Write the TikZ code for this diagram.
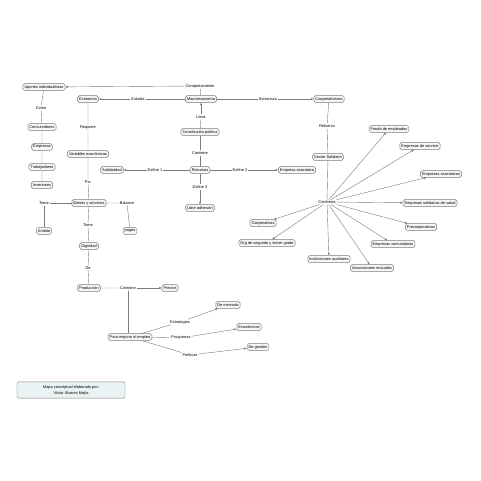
\documentclass[tikz,border=0pt]{standalone}
\usepackage{fontspec}
\setmainfont{Liberation Sans}
\usetikzlibrary{arrows.meta}
\definecolor{cmapline}{HTML}{7A7A7A}
\definecolor{cmapfill}{HTML}{F5F7F7}
\definecolor{notefill}{HTML}{EAF3F3}

\begin{document}
\begin{tikzpicture}[x=1pt, y=-1pt,
    concept/.style={draw=cmapline, fill=cmapfill, rounded corners=1.6pt, line width=0.5pt,
        font=\fontsize{3.9}{4.5}\selectfont, inner xsep=1.6pt, inner ysep=1pt, minimum height=6.6pt},
    phrase/.style={font=\fontsize{3.9}{4.5}\selectfont, inner sep=0.9pt},
    link/.style={draw=cmapline, line width=0.4pt},
    arr/.style={link, -{Latex[length=2.6pt, width=2.2pt]}}]
    % Page frame
    \useasboundingbox (0,0) rectangle (481,481);

    % Top row
    \node[concept] (aportes) at (44,87) {Aportes individualistas};
    \node[phrase] (comporta) at (200,86) {Comportamiento};
    \node[concept] (economia) at (88,99) {Economía};
    \node[phrase] (estudia) at (138,99) {Estudia};
    \node[concept] (macro) at (201,99) {Macroeconomía};
    \node[phrase] (estructura) at (268,99) {Estructura};
    \node[concept] (coop) at (329,99) {Cooperativismo};

    % Left column
    \node[phrase] (como) at (41,108) {Como};
    \node[concept] (consum) at (42,127) {Consumidores};
    \node[concept] (empresas) at (42,147) {Empresas};
    \node[concept] (trabaj) at (42,167) {Trabajadores};
    \node[concept] (invers) at (42,185) {Inversores};

    % Economia branch
    \node[phrase] (requiere) at (88,127) {Requiere};
    \node[concept] (variables) at (88,154) {Variables económicas};
    \node[phrase] (por) at (88,182) {Por};

    % Centre column
    \node[phrase] (lleva) at (201,117) {Lleva};
    \node[concept] (constit) at (200,132) {Constitución política};
    \node[phrase] (contiene) at (200,153) {Contiene};
    \node[concept] (recursos) at (200,170) {Recursos};
    \node[phrase] (def1) at (155,170) {Define 1};
    \node[concept] (solidar) at (112,170) {Solidaridad};
    \node[phrase] (def2) at (240,170) {Define 2};
    \node[concept] (asociat) at (297,170) {Empresa asociativa};
    \node[phrase] (def3) at (200,187) {Define 3};
    \node[concept] (libre) at (200,208) {Libre adhesión};

    % Sector solidario
    \node[phrase] (refuerza) at (327,126) {Refuerza};
    \node[concept] (sector) at (328,157) {Sector Solidario};
    \node[phrase] (hub) at (327,202) {Conforma};
    \node[concept] (fondo) at (389,129) {Fondo de empleados};
    \node[concept] (servicio) at (420,146) {Empresas de servicio};
    \node[concept] (asociativas) at (441,174) {Empresas asociativas};
    \node[concept] (salud) at (430,203) {Empresas solidarias de salud};
    \node[concept] (cooperativas) at (263,223) {Cooperativas};
    \node[concept] (precoop) at (421,227) {Precooperativas};
    \node[concept] (orgs) at (267,243) {Org de segundo y tercer grado};
    \node[concept] (comunit) at (393,244) {Empresas comunitarias};
    \node[concept] (instit) at (329,259) {Instituciones auxiliares};
    \node[concept] (mutuales) at (372,268) {Asociaciones mutuales};

    % Bienes y servicios
    \node[phrase] (tiene1) at (44,203) {Tiene};
    \node[concept] (bienes) at (89,203) {Bienes y servicios};
    \node[phrase] (balance) at (127,203) {Balance};
    \node[concept] (ambito) at (44,231) {Ámbito};
    \node[concept] (pagos) at (130,231) {pagos};
    \node[phrase] (tiene2) at (88,225) {Tiene};
    \node[concept] (dignidad) at (89,246) {Dignidad};
    \node[phrase] (de) at (88,268) {De};
    \node[concept] (produc) at (89,288) {Producción};
    \node[phrase] (contiene2) at (128,288) {Contiene};
    \node[concept] (precios) at (170,288) {Precios};

    % Empleo
    \node[concept] (mejorar) at (130,337) {Para mejorar el empleo};
    \node[phrase] (estrat) at (180,322) {Estrategias};
    \node[concept] (mercado) at (228,305) {De mercado};
    \node[phrase] (program) at (181,338) {Programas};
    \node[concept] (economicos) at (249,327) {Económicos};
    \node[phrase] (politic) at (190,355) {Políticas};
    \node[concept] (gestion) at (258,347) {De gestión};

    % Connectors
    \draw[link] (macro) -- (comporta);
    \draw[arr] (comporta) -- (aportes);
    \draw[link] (macro) -- (estudia);
    \draw[arr] (estudia) -- (economia);
    \draw[link] (macro) -- (estructura);
    \draw[arr] (estructura) -- (coop);

    \draw[link] (aportes) -- (como) -- (consum) -- (empresas) -- (trabaj) -- (invers);
    \draw[link] (economia) -- (requiere) -- (variables) -- (por) -- (bienes);

    \draw[link] (constit) -- (lleva);
    \draw[arr] (lleva) -- (macro);
    \draw[link] (recursos) -- (contiene) -- (constit);
    \draw[link] (recursos) -- (def1);
    \draw[arr] (def1) -- (solidar);
    \draw[link] (recursos) -- (def2);
    \draw[arr] (def2) -- (asociat);
    \draw[link] (recursos) -- (def3);
    \draw[arr] (def3) -- (libre);

    \draw[link] (coop) -- (refuerza) -- (sector) -- (hub);
    \foreach \target in {fondo, servicio, asociativas, salud, cooperativas,
        precoop, orgs, comunit, instit, mutuales} {
        \draw[arr] (hub) -- (\target);
    }

    \draw[link] (bienes) -- (tiene1) -- (ambito);
    \draw[link] (bienes) -- (balance) -- (pagos);
    \draw[link] (bienes) -- (tiene2) -- (dignidad) -- (de) -- (produc) -- (contiene2);
    \draw[arr] (contiene2) -- (precios);
    \draw[link] (contiene2) -- (mejorar.north -| contiene2);

    \draw[link] (mejorar) -- (estrat);
    \draw[arr] (estrat) -- (mercado);
    \draw[link] (mejorar) -- (program);
    \draw[arr] (program) -- (economicos);
    \draw[link] (mejorar) -- (politic);
    \draw[arr] (politic) -- (gestion);

    % Author note
    \node[draw=cmapline, fill=notefill, rounded corners=1.2pt, line width=0.4pt,
        minimum width=108pt, minimum height=14pt, align=center,
        font=\fontsize{3.9}{6}\selectfont] (nota) at (71,390)
        {Mapa conceptual elaborado por:\\Víctor Álvarez Mejía};
\end{tikzpicture}
\end{document}
